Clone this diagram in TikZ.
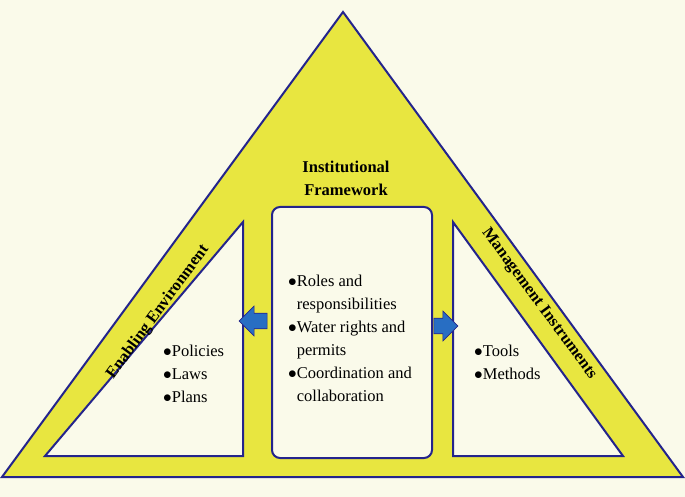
\documentclass[tikz,border=0pt]{standalone}
\usepackage{fontspec}
\setmainfont{Liberation Serif}
\usetikzlibrary{shapes.arrows}
\definecolor{bg}{RGB}{250,250,234}
\definecolor{yel}{RGB}{232,230,64}
\definecolor{navy}{RGB}{36,36,140}
\definecolor{arr}{RGB}{40,110,195}
\begin{document}
\begin{tikzpicture}[x=1pt,y=-1pt,
  frame/.style={draw=navy,line width=2pt,line join=miter},
  txt/.style={font=\fontsize{16.5}{23}\selectfont,align=left,inner sep=0},
  ttl/.style={font=\fontsize{16.5}{21}\selectfont\bfseries,inner sep=0},
  barrow/.style={single arrow,fill=arr,draw=navy,line width=0.6pt,minimum width=30pt,single arrow head extend=4pt,inner sep=4pt}]
\fill[bg] (0,0) rectangle (685,497);
\useasboundingbox (0,0) rectangle (685,497);
\draw[frame,fill=yel] (343,12) -- (683,477) -- (2,477) -- cycle;
\draw[frame,fill=bg] (243,222) -- (243,456) -- (45,456) -- cycle;
\draw[frame,fill=bg] (453,222) -- (453,456) -- (623,456) -- cycle;
\draw[frame,fill=bg,rounded corners=8pt] (272,207) rectangle (432,458);
\node[ttl,align=center] (ttl) at (346,178) {Institutional\\[2pt]Framework};
\node[ttl,rotate=53.7] (ee) at (158,312) {Enabling Environment};
\node[ttl,rotate=-53.7] (mi) at (539,304) {Management Instruments};
\node[txt,anchor=north west] (l) at (163,345) {$\bullet$Policies\\$\bullet$Laws\\$\bullet$Plans};
\node[txt,anchor=north west] (r) at (474,345) {$\bullet$Tools\\$\bullet$Methods};
\node[txt,anchor=north west] (m) at (288,275) {$\bullet$Roles and\\\hphantom{$\bullet$}responsibilities\\$\bullet$Water rights and\\\hphantom{$\bullet$}permits\\$\bullet$Coordination and\\\hphantom{$\bullet$}collaboration};
\node[barrow,shape border rotate=180,minimum height=28pt] (la) at (257,321) {};
\node[barrow,minimum height=24pt] (ra) at (442,326) {};
\end{tikzpicture}
\end{document}
